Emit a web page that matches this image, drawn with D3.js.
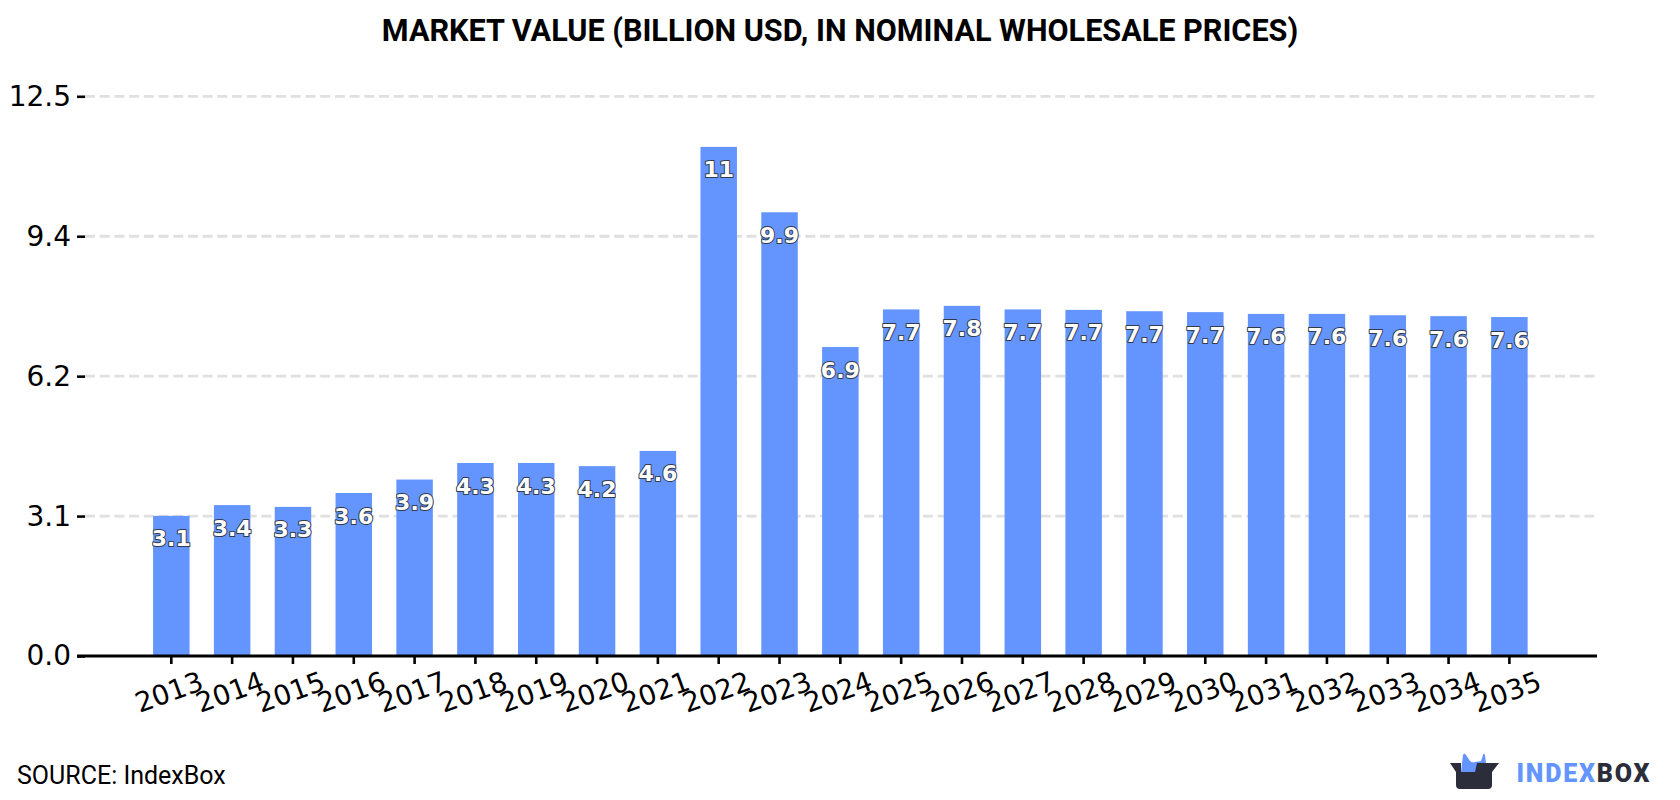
<!DOCTYPE html>
<html>
<head>
<meta charset="utf-8">
<script src="https://cdn.jsdelivr.net/npm/d3@7"></script>
<style>
  html, body { margin: 0; padding: 0; background: #fff; }
  svg { display: block; }
  .title { font: 700 30.6px Roboto, sans-serif; fill: #000; text-anchor: middle; }
  .source { font: 400 25px Roboto, sans-serif; fill: #000; }
  .y-label { font: 400 28px "DejaVu Sans", sans-serif; fill: #000; }
  .x-label { font: 400 27.5px "DejaVu Sans", sans-serif; fill: #000; }
  .value-label {
    font: 700 22px "DejaVu Sans", sans-serif; fill: #fff; text-anchor: middle;
    stroke: #333a4a; stroke-width: 2px; paint-order: stroke; stroke-linejoin: round;
  }
  .brand { font: 900 25px Roboto, sans-serif; letter-spacing: 1.8px; }
</style>
</head>
<body>
<svg id="chart" width="1680" height="800"></svg>
<script>
const years = ["2013","2014","2015","2016","2017","2018","2019","2020","2021","2022","2023","2024",
               "2025","2026","2027","2028","2029","2030","2031","2032","2033","2034","2035"];
const marketValue = [3.13,3.37,3.33,3.64,3.94,4.31,4.31,4.24,4.58,11.37,9.91,6.90,
                     7.74,7.82,7.74,7.73,7.70,7.68,7.64,7.64,7.61,7.59,7.57];
const yTicks = [0, 3.125, 6.25, 9.375, 12.5];
const yTickLabels = ["0.0", "3.1", "6.2", "9.4", "12.5"];
const titleText = "MARKET VALUE (BILLION USD, IN NOMINAL WHOLESALE PRICES)";
const sourceText = "SOURCE: IndexBox";

const svg = d3.select("#chart");
const plot = { left: 77, right: 1597, top: 96.3, bottom: 656 };

const x = d3.scaleBand().domain(years).range([140.9, 1539.8]).paddingInner(0.4).paddingOuter(0.2);
const y = d3.scaleLinear().domain([0, 12.5]).range([plot.bottom, plot.top]);

const valueFormat = d3.format(".2r");

svg.append("text").attr("class", "title").attr("x", 840).attr("y", 41).text(titleText);

// Dashed horizontal grid sits beneath the bars
svg.append("g").selectAll("line").data(yTicks.filter(d => d > 0)).join("line")
  .attr("x1", plot.left + 8).attr("x2", plot.right)
  .attr("y1", d => y(d)).attr("y2", d => y(d))
  .attr("stroke", "#e0e0e0").attr("stroke-width", 2.8).attr("stroke-dasharray", "10 4.7");

svg.append("g").selectAll("rect").data(years).join("rect")
  .attr("x", d => x(d))
  .attr("width", x.bandwidth())
  .attr("y", (d, i) => y(marketValue[i]))
  .attr("height", (d, i) => y(0) - y(marketValue[i]))
  .attr("fill", "#6495ff");

// Y axis
const yAxis = svg.append("g").attr("transform", `translate(${plot.left + 8},0)`)
  .call(d3.axisLeft(y).tickValues(yTicks).tickSize(8).tickPadding(6)
    .tickFormat((d, i) => yTickLabels[i]));
yAxis.select(".domain").remove();
yAxis.selectAll(".tick line").attr("stroke", "#000").attr("stroke-width", 2.6);
yAxis.selectAll(".tick text").attr("class", "y-label").attr("fill", null);

// X axis with slanted year labels
const xAxis = svg.append("g").attr("transform", `translate(0,${plot.bottom})`)
  .call(d3.axisBottom(x).tickSize(8).tickPadding(0).tickSizeOuter(0));
xAxis.select(".domain").remove();
xAxis.selectAll(".tick line").attr("stroke", "#000").attr("stroke-width", 2.6);
xAxis.selectAll(".tick text")
  .attr("class", "x-label")
  .attr("fill", null)
  .attr("text-anchor", "middle")
  .attr("dy", null)
  .attr("y", null)
  .attr("transform", "translate(1,45) rotate(-20)");

svg.append("line")
  .attr("x1", plot.left).attr("x2", plot.right)
  .attr("y1", plot.bottom).attr("y2", plot.bottom)
  .attr("stroke", "#000").attr("stroke-width", 2.8);

svg.append("g").selectAll("text").data(years).join("text")
  .attr("class", "value-label")
  .attr("x", d => x(d) + x.bandwidth() / 2)
  .attr("y", (d, i) => y(marketValue[i]) + 30.5)
  .text((d, i) => valueFormat(marketValue[i]));

svg.append("text").attr("class", "source").attr("x", 17).attr("y", 784).text(sourceText);

// Brand mark: open box with a blue shape rising out of it
const logo = svg.append("g");
logo.append("path").attr("fill", "#6495ff")
  .attr("d", "M1461 772 L1463 755 Q1464 752 1466 755 L1470 761 Q1472 763 1475 762 L1481 761 L1483 755 Q1484 752 1485 755 L1487 772 L1478 772 L1476 772 L1474 778 L1461 778 Z");
logo.append("path").attr("fill", "#2b2d3a")
  .attr("d", "M1450 763 L1461 763 L1461 772 L1475 772 L1477 763 L1499 763 L1492 772 L1492 785 Q1492 789 1488 789 L1460 789 Q1456 789 1456 785 L1456 772 Z");
const brand = svg.append("text").attr("class", "brand").attr("x", 1516.5).attr("y", 782);
brand.append("tspan").attr("fill", "#6495ff").text("INDEX");
brand.append("tspan").attr("fill", "#2b2d3a").text("BOX");
</script>
</body>
</html>
